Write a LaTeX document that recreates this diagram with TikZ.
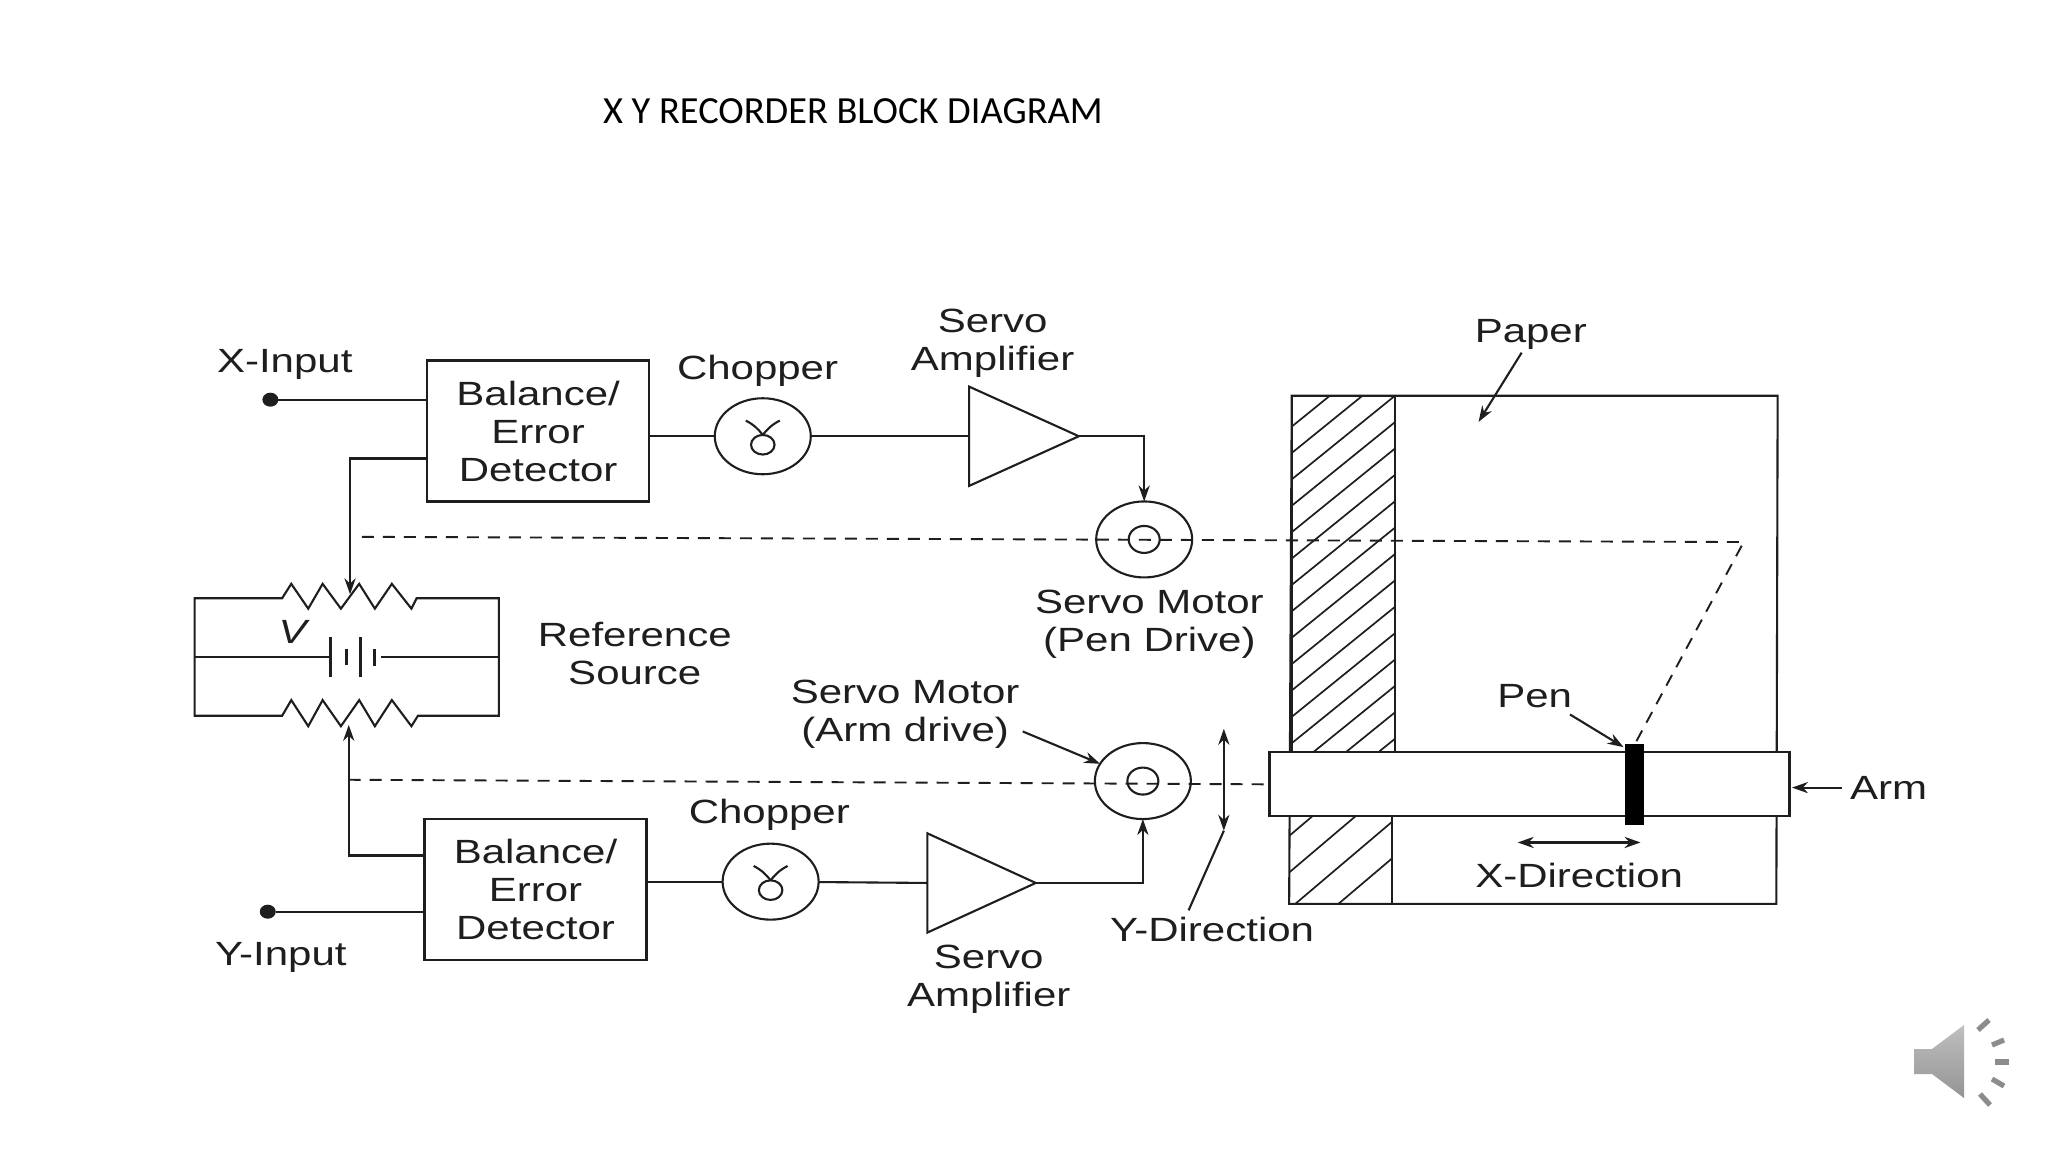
\documentclass[tikz,border=0pt]{standalone}
\usepackage{fontspec}
\setmainfont[FakeStretch=1.25]{Liberation Sans}
\newfontfamily\titlefont{Carlito}
\usetikzlibrary{arrows.meta,calc,shapes.geometric}
\definecolor{ink}{HTML}{1E1E1E}
\tikzset{
  every picture/.style={x=0.65306pt,y=-0.65306pt},
  wire/.style={draw=ink,line width=1.05pt},
  thin wire/.style={draw=ink,line width=0.85pt},
  arrowed/.style={wire,-{Stealth[length=8pt,width=5.6pt]}},
  biarrow/.style={wire,{Stealth[length=8pt,width=5.6pt]}-{Stealth[length=8pt,width=5.6pt]}},
  dashline/.style={draw=ink,line width=0.95pt,dash pattern=on 6pt off 4.5pt},
  lbl/.style={font=\fontsize{16.8}{19}\selectfont,text=ink,align=center,inner sep=0pt},
  blockbox/.style={wire,rectangle,minimum width=111pt,minimum height=70.5pt,inner sep=0pt,outer sep=0pt,font=\fontsize{16.8}{19}\selectfont,text=ink,align=center},
  outercirc/.style={wire,ellipse,minimum width=48pt,minimum height=38pt,inner sep=0pt,outer sep=0pt},
  innercirc/.style={wire,ellipse,minimum width=15.5pt,minimum height=13.5pt,inner sep=0pt,outer sep=0pt},
  termdot/.style={ellipse,fill=ink,minimum width=8pt,minimum height=7pt,inner sep=0pt,outer sep=0pt},
  chopsym/.pic={
    \draw[wire] (-13,-12) .. controls (-7,-9) and (-3,-5) .. (0,-1);
    \draw[wire] (13,-12) .. controls (7,-9) and (3,-5) .. (0,-1);
    \draw[wire] (0,6.5) ellipse [x radius=9,y radius=7.5];
  },
}
\begin{document}
\begin{tikzpicture}
\useasboundingbox (0,0) rectangle (1568,882);
\fill[white] (0,0) rectangle (1568,882);

\node[font=\titlefont\fontsize{19.2}{22}\selectfont,text=black,inner sep=0pt] (title) at (653,85) {X Y RECORDER BLOCK DIAGRAM};

% paper with hatched strip
\draw[wire] (989,303) -- (1361,303) -- (1360,692) -- (987,692) -- cycle;
\begin{scope}
  \clip (989,303) -- (1068,303) -- (1068,576) -- (989,576) -- cycle;
  \foreach \k in {-2,...,13} \draw[thin wire] (989,{367+20.2*\k}) -- (1068,{303+20.2*\k});
\end{scope}
\begin{scope}
  \clip (987,625) -- (1066,625) -- (1066,692) -- (987,692) -- cycle;
  \foreach \l in {640,668,696,724} \draw[thin wire] (987,\l) -- (1066,{\l-67});
\end{scope}
\draw[wire] (1068,303) -- (1068,576);
\draw[wire] (989,303) -- (989,576);
\draw[wire] (1066,625) -- (1066,692);

% top channel
\node[termdot] (xdot) at (207,306) {};
\node[lbl] (xlabel) at (218,279) {X-Input};
\node[blockbox] (box1) at (412,330) {Balance/\\Error\\Detector};
\node[outercirc] (chop1) at (584,334) {};
\pic at (chop1.center) {chopsym};
\node[lbl] (choplabel1) at (580,284) {Chopper};
\coordinate (a1t) at (742,296);
\coordinate (a1b) at (742,372);
\coordinate (a1o) at (826,334);
\coordinate (a1i) at (742,334);
\draw[wire,line join=miter] (a1t) -- (a1o) -- (a1b) -- cycle;
\node[lbl] (amplabel1) at (760,263) {Servo\\Amplifier};
\node[outercirc] (m1) at (876,413) {};
\node[innercirc] (m1i) at (876,413) {};
\node[lbl] (motorlabel1) at (880,478) {Servo Motor\\(Pen Drive)};

\draw[wire] (xdot) -- (box1.west |- xdot);
\draw[wire] (box1.east |- chop1) -- (chop1);
\draw[wire] (chop1) -- (a1i);
\draw[arrowed] (a1o) -| (m1.north);
\coordinate (fb1) at (327,351);
\coordinate (w1) at (268,455);
\draw[arrowed] (fb1) -| (w1);

% reference source
\draw[wire,line join=miter] (382,458) -- (319,458) -- (315,466) -- (300,447) -- (287,466) -- (275,447) -- (261,466) -- (247,447) -- (236,466) -- (223,447) -- (216,458) -- (149,458) -- (149,548) -- (216,548) -- (223,536) -- (236,556) -- (247,536) -- (261,556) -- (275,536) -- (287,556) -- (300,536) -- (315,556) -- (320,548) -- (382,548) -- cycle;
\draw[wire] (149,503) -- (253,503);
\draw[wire] (292,503) -- (382,503);
\draw[wire] (253,488) -- (253,518);
\draw[wire,line width=1.5pt] (265,497) -- (265,509);
\draw[wire] (276,488) -- (276,518);
\draw[wire,line width=1.5pt] (287,497) -- (287,510);
\node[lbl,font=\fontsize{16.8}{19}\selectfont\itshape] (vlabel) at (224,484) {V};
\node[lbl] (reflabel) at (486,500) {Reference\\Source};

% bottom channel
\node[termdot] (ydot) at (205,698) {};
\node[lbl] (ylabel) at (215,733) {Y-Input};
\node[blockbox] (box2) at (410,681) {Balance/\\Error\\Detector};
\node[outercirc] (chop2) at (590,675) {};
\pic at (chop2.center) {chopsym};
\node[lbl] (choplabel2) at (589,624) {Chopper};
\coordinate (a2t) at (710,638);
\coordinate (a2b) at (710,714);
\coordinate (a2o) at (793,676);
\coordinate (a2i) at (710,676);
\draw[wire,line join=miter] (a2t) -- (a2o) -- (a2b) -- cycle;
\node[lbl] (amplabel2) at (757,750) {Servo\\Amplifier};
\node[outercirc] (m2) at (875,598) {};
\node[innercirc] (m2i) at (875,598) {};
\node[lbl] (motorlabel2) at (693,547) {Servo Motor\\(Arm drive)};

\draw[wire] (ydot) -- (box2.west |- ydot);
\draw[wire] (box2.east |- chop2) -- (chop2);
\draw[wire] (chop2) -- (a2i);
\draw[arrowed] (a2o) -| (m2.south);
\coordinate (fb2) at (325,655);
\coordinate (w2) at (267,555);
\draw[arrowed] (fb2) -| (w2);
\coordinate (mlab) at (783,560);
\draw[arrowed] (mlab) -- (m2.158);

% arm and pen
\node[wire,rectangle,fill=white,minimum width=260pt,minimum height=32pt,inner sep=0pt,outer sep=0pt] (arm) at (1171,600.5) {};
\node[rectangle,fill=black,minimum width=9.8pt,minimum height=40.5pt,inner sep=0pt,outer sep=0pt] (pen) at (1251.5,601) {};

% dashed links
\coordinate (d1s) at (277,411);
\coordinate (d1e) at (1335,415);
\draw[dashline] (d1s) -- (d1e) -- (pen.north);
\coordinate (d2s) at (267,597);
\draw[dashline] (d2s) -- (arm.west);

% direction marks and labels
\coordinate (ydt) at (937,558);
\coordinate (ydb) at (937,636);
\draw[biarrow] (ydt) -- (ydb);
\node[lbl] (ydirlabel) at (928,712) {Y-Direction};
\coordinate (ydl) at (910,697);
\draw[wire] (ydb) -- (ydl);

\coordinate (xdl) at (1162,645);
\coordinate (xdr) at (1256,645);
\draw[biarrow] (xdl) -- (xdr);
\node[lbl] (xdirlabel) at (1209,670) {X-Direction};

\node[lbl] (paperlabel) at (1172,256) {Paper};
\coordinate (pa1) at (1165,270);
\coordinate (pa2) at (1132,323);
\draw[arrowed] (pa1) -- (pa2);

\node[lbl] (penlabel) at (1175,533) {Pen};
\coordinate (pe1) at (1202,547);
\coordinate (pe2) at (1243,572);
\draw[arrowed] (pe1) -- (pe2);

\node[lbl] (armlabel) at (1446,603) {Arm};
\coordinate (ar1) at (1410,603);
\coordinate (ar2) at (1372,603);
\draw[arrowed] (ar1) -- (ar2);

% speaker icon
\begin{scope}[x=0.5pt,y=-0.5pt]
  \shade[top color=black!25,bottom color=black!42] (1914,1049) -- (1932,1049) -- (1964,1025) -- (1964,1098) -- (1932,1074) -- (1914,1074) -- cycle;
  \foreach \ax/\ay/\bx/\by in {1978/1030/1989/1020,1992/1045/2004/1040,1995/1062/2009/1062,1992/1079/2004/1086,1980/1094/1990/1105}
    \draw[black!45,line width=2.6pt] (\ax,\ay) -- (\bx,\by);
\end{scope}
\end{tikzpicture}
\end{document}
